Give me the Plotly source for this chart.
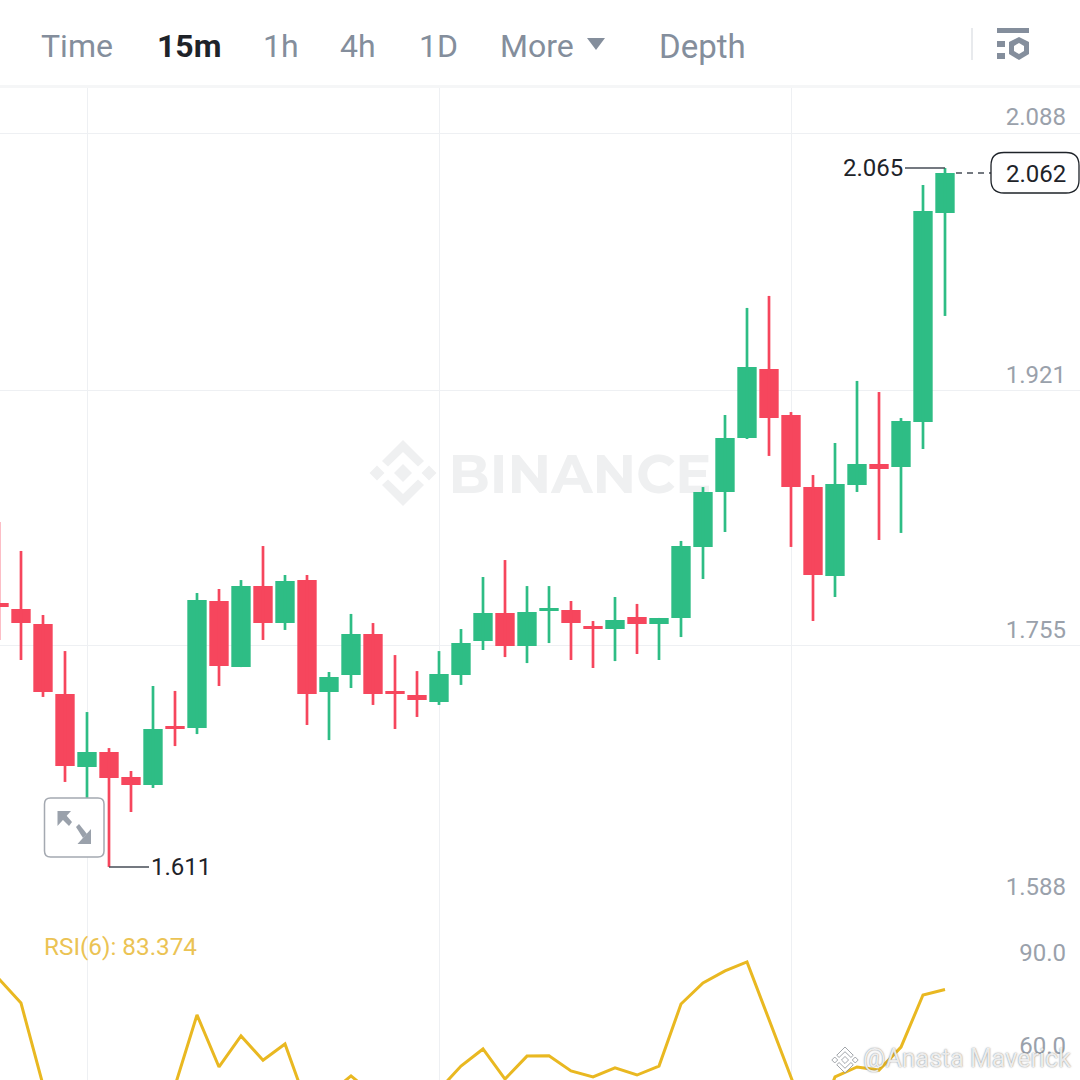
#!/usr/bin/env python3
# -*- coding: utf-8 -*-
import plotly.graph_objects as go

# ----------------------------------------
# data
# ----------------------------------------
candle_idx = list(range(-1, 43))
opens = [1.7828, 1.7789, 1.7692, 1.7237, 1.6763, 1.6860, 1.6698, 1.6646, 1.7029, 1.7016, 1.7841,
         1.7412, 1.7938, 1.7698, 1.7977, 1.7250, 1.7360, 1.7627, 1.7257, 1.7231, 1.7185, 1.7360,
         1.7581, 1.7763, 1.7549, 1.7776, 1.7783, 1.7679, 1.7659, 1.7737, 1.7692, 1.7731, 1.8192,
         1.8549, 1.8899, 1.9347, 1.9049, 1.8581, 1.8003, 1.8594, 1.8731, 1.8711, 1.9003, 2.0360]
closes = [1.7802, 1.7698, 1.7250, 1.6770, 1.6860, 1.6692, 1.6646, 1.7010, 1.7010, 1.7848, 1.7419,
          1.7938, 1.7698, 1.7971, 1.7237, 1.7347, 1.7627, 1.7237, 1.7237, 1.7198, 1.7367, 1.7568,
          1.7763, 1.7549, 1.7770, 1.7796, 1.7698, 1.7659, 1.7718, 1.7692, 1.7731, 1.8198, 1.8549,
          1.8899, 1.9361, 1.9029, 1.8581, 1.8010, 1.8601, 1.8731, 1.8698, 1.9010, 2.0374, 2.0620]
highs = [1.8354, 1.8166, 1.7750, 1.7516, 1.7120, 1.6886, 1.6737, 1.7289, 1.7257, 1.7893, 1.7919,
         1.7977, 1.8198, 1.8010, 1.8010, 1.7380, 1.7757, 1.7698, 1.7490, 1.7386, 1.7516, 1.7659,
         1.7997, 1.8107, 1.7938, 1.7938, 1.7841, 1.7711, 1.7867, 1.7822, 1.7731, 1.8231, 1.8581,
         1.9049, 1.9744, 1.9822, 1.9068, 1.8659, 1.8867, 1.9270, 1.9198, 1.9029, 2.0542, 2.0653]
lows = [1.7588, 1.7458, 1.7218, 1.6666, 1.6451, 1.6114, 1.6471, 1.6627, 1.6899, 1.6977, 1.7289,
        1.7412, 1.7588, 1.7653, 1.7036, 1.6938, 1.7276, 1.7166, 1.7010, 1.7088, 1.7166, 1.7296,
        1.7523, 1.7477, 1.7438, 1.7568, 1.7458, 1.7406, 1.7451, 1.7497, 1.7458, 1.7607, 1.7984,
        1.8289, 1.8893, 1.8783, 1.8192, 1.7711, 1.7867, 1.8549, 1.8237, 1.8283, 1.8828, 1.9692]
rsi = [86.8, 79.0, 52.6, 40.0, 45.0, 38.0, 35.0, 48.0, 52.3, 75.2, 58.4, 68.4, 60.6, 65.8, 46.1,
       49.7, 55.5, 49.7, 45.0, 44.0, 51.0, 58.7, 64.2, 54.5, 61.9, 62.0, 57.1, 55.2, 58.1, 55.8,
       58.7, 78.7, 85.5, 89.4, 92.3, 73.5, 54.8, 36.5, 55.2, 58.4, 57.4, 64.8, 81.6, 83.374]

price_ticks = [1.588, 1.755, 1.921, 2.088]
price_tick_labels = ["1.588", "1.755", "1.921", "2.088"]
rsi_ticks = [60, 90]
rsi_tick_labels = ["60.0", "90.0"]
time_grid_idx = [3, 19, 35]
tabs = ["Time", "15m", "1h", "4h", "1D", "More", "Depth"]

# ----------------------------------------
# style
# ----------------------------------------
W, H = 1080, 1080
UP, DOWN = "#2EBD85", "#F6465D"
GRID = "#EEF0F3"
AXIS_TEXT = "#9AA1AB"
TAB_TEXT = "#848E9C"
DARK = "#1E2329"
FONT = "Roboto"


def xp(px):
    return px / W


def yp(px):
    return 1 - px / H


def poly(points):
    # pixel points -> closed svg path in paper coordinates
    head, *rest = points
    d = f"M {xp(head[0])} {yp(head[1])} "
    d += " ".join(f"L {xp(x)} {yp(y)}" for x, y in rest)
    return d + " Z"


def round_rect(x0, y0, x1, y1, r):
    p = lambda x, y: f"{xp(x)} {yp(y)}"
    return (
        f"M {p(x0 + r, y0)} L {p(x1 - r, y0)} Q {p(x1, y0)} {p(x1, y0 + r)} "
        f"L {p(x1, y1 - r)} Q {p(x1, y1)} {p(x1 - r, y1)} "
        f"L {p(x0 + r, y1)} Q {p(x0, y1)} {p(x0, y1 - r)} "
        f"L {p(x0, y0 + r)} Q {p(x0, y0)} {p(x0 + r, y0)} Z"
    )


def binance_logo(cx, cy, r):
    # five pieces of the diamond mark, r = half width
    k = r / 33
    pieces = []
    for dx, dy, s in [(0, 0, 9), (-26, 0, 7.5), (26, 0, 7.5)]:
        pieces.append([(cx + (dx - s) * k, cy + dy * k), (cx + dx * k, cy + (dy - s) * k),
                       (cx + (dx + s) * k, cy + dy * k), (cx + dx * k, cy + (dy + s) * k)])
    for sign in (-1, 1):
        pieces.append([
            (cx, cy + sign * 33 * k),
            (cx + 21 * k, cy + sign * 12 * k),
            (cx + 15 * k, cy + sign * 6.5 * k),
            (cx, cy + sign * 21 * k),
            (cx - 15 * k, cy + sign * 6.5 * k),
            (cx - 21 * k, cy + sign * 12 * k),
        ])
    return pieces


def paper_shape(path, fill=None, line=None, width=0, layer="above"):
    return dict(type="path", xref="paper", yref="paper", path=path, fillcolor=fill or "rgba(0,0,0,0)",
                line=dict(color=line or "rgba(0,0,0,0)", width=width), layer=layer)


def wick_trace(rising, color):
    # candlestick line width also grows the body, so wicks are drawn on their own
    xs, ys = [], []
    for i, o, c, h, l in zip(candle_idx, opens, closes, highs, lows):
        if (c >= o) == rising:
            xs += [i, i, None]
            ys += [l, h, None]
    return go.Scatter(x=xs, y=ys, mode="lines", line=dict(color=color, width=2.7),
                      showlegend=False, hoverinfo="skip")


fig = go.Figure()

fig.add_trace(
    go.Candlestick(
        x=candle_idx, open=opens, high=highs, low=lows, close=closes,
        whiskerwidth=0,
        increasing=dict(line=dict(color=UP, width=0), fillcolor=UP),
        decreasing=dict(line=dict(color=DOWN, width=0), fillcolor=DOWN),
        showlegend=False, hoverinfo="skip",
    )
)
fig.add_trace(wick_trace(True, UP))
fig.add_trace(wick_trace(False, DOWN))
fig.add_trace(
    go.Scatter(
        x=candle_idx, y=rsi, yaxis="y2", mode="lines",
        line=dict(color="#E9B821", width=3),
        showlegend=False, hoverinfo="skip",
    )
)

shapes = []
annotations = []

# header
shapes.append(dict(type="rect", xref="paper", yref="paper", x0=0, x1=1, y0=yp(88), y1=yp(85),
                   fillcolor="#F5F6F7", line=dict(width=0)))
shapes.append(dict(type="line", xref="paper", yref="paper", x0=xp(972), x1=xp(972), y0=yp(28), y1=yp(60),
                   line=dict(color="#E8EAED", width=2)))
for text, x in zip(tabs, [39, 155, 261, 338, 417, 498, 657]):
    active = text == "15m"
    annotations.append(dict(
        xref="paper", yref="paper", x=xp(x), y=yp(46), xanchor="left", yanchor="middle", showarrow=False,
        text=f"<b>{text}</b>" if active else text,
        font=dict(family=FONT, size=33 if text == "Depth" else 32, color=DARK if active else TAB_TEXT),
    ))
# More triangle
shapes.append(paper_shape(poly([(587, 38), (605, 38), (596, 50)]), fill=TAB_TEXT))
# settings icon
shapes.append(paper_shape(poly([(997, 28), (1029, 28), (1029, 33), (997, 33)]), fill=TAB_TEXT))
shapes.append(paper_shape(poly([(997, 41), (1005, 41), (1005, 47), (997, 47)]), fill=TAB_TEXT))
shapes.append(paper_shape(poly([(997, 53), (1005, 53), (1005, 59), (997, 59)]), fill=TAB_TEXT))
shapes.append(paper_shape(poly([(1019, 37), (1029, 42), (1029, 54), (1019, 60), (1009, 54), (1009, 42)]), fill=TAB_TEXT))
shapes.append(paper_shape(poly([(1019, 43), (1024, 46), (1024, 51), (1019, 54), (1014, 51), (1014, 46)]), fill="#FFFFFF"))

# BINANCE watermark under the candles
for piece in binance_logo(403, 473, 33):
    shapes.append(paper_shape(poly(piece), fill="#EFF0F1", layer="below"))
shapes.append(dict(
    type="rect", xref="paper", yref="paper", x0=xp(450), x1=xp(710), y0=yp(494), y1=yp(449), layer="below",
    line=dict(width=0), fillcolor="rgba(0,0,0,0)",
    label=dict(text="<b>BINANCE</b>", textposition="middle center",
               font=dict(family="Montserrat, Lato, Open Sans", size=54, color="#EFF0F1")),
))

# high / low markers
hi_i = highs.index(max(highs[20:]))
lo_i = lows.index(min(lows))
annotations.append(dict(
    x=candle_idx[hi_i], y=highs[hi_i], xref="x", yref="y", text=f"{highs[hi_i]:.3f}",
    showarrow=True, arrowhead=0, arrowwidth=1.4, arrowcolor="#474D57", ax=-40, ay=0, xanchor="right",
    font=dict(family=FONT, size=24, color=DARK),
))
annotations.append(dict(
    x=candle_idx[lo_i], y=lows[lo_i], xref="x", yref="y", text=f"{lows[lo_i]:.3f}",
    showarrow=True, arrowhead=0, arrowwidth=1.4, arrowcolor="#474D57", ax=40, ay=0, xanchor="left",
    font=dict(family=FONT, size=24, color=DARK),
))

# last price tag
shapes.append(dict(type="line", xref="paper", yref="y", x0=xp(956), x1=xp(991), y0=closes[-1], y1=closes[-1],
                   line=dict(color="#474D57", width=1.5, dash="6px,5px")))
shapes.append(paper_shape(round_rect(991, 152.5, 1079, 193, 13), fill="#FFFFFF", line=DARK, width=1.3))
annotations.append(dict(
    xref="paper", yref="y", x=xp(1036), y=closes[-1], showarrow=False, xanchor="center", yanchor="middle",
    text=f"{closes[-1]:.3f}", font=dict(family=FONT, size=24, color=DARK), yshift=-1,
))

# fullscreen button
shapes.append(paper_shape(round_rect(44.5, 798, 104, 857, 6), fill="#FFFFFF", line="#A4A9B1", width=1.5))
shapes.append(paper_shape(poly([(57.5, 811), (71, 811), (57.5, 826)]), fill=AXIS_TEXT))
shapes.append(paper_shape(poly([(91, 844), (77.5, 844), (91, 829)]), fill=AXIS_TEXT))
shapes.append(paper_shape(poly([(66, 815), (72, 822), (69, 826), (62, 819)]), fill=AXIS_TEXT))
shapes.append(paper_shape(poly([(76, 827), (79, 824), (87, 834), (83, 838)]), fill=AXIS_TEXT))

# RSI caption
annotations.append(dict(
    xref="paper", yref="paper", x=xp(42), y=yp(946), xanchor="left", yanchor="middle", showarrow=False,
    text=f"RSI(6): {rsi[-1]:.3f}", font=dict(family=FONT, size=24.3, color="#EBC354"),
))

# overlaid author mark at the bottom right
for piece in binance_logo(845, 1060, 13):
    shapes.append(paper_shape(poly(piece), fill="rgba(255,255,255,0.8)", line="#8A8F96", width=0.8))
annotations.append(dict(
    xref="paper", yref="paper", x=xp(861), y=yp(1058), xanchor="left", yanchor="middle", showarrow=False,
    text="@Anasta Maverick",
    font=dict(family=FONT, size=25, color="rgba(255,255,255,0.85)", shadow="0px 0px 1.5px #555"),
))

axis_font = dict(family=FONT, size=24, color=AXIS_TEXT)
price_top = price_ticks[-1] + (133 - 88) * (price_ticks[-1] - price_ticks[0]) / (903 - 133)
rsi_per_px = (rsi_ticks[1] - rsi_ticks[0]) / (1062 - 969)

fig.update_layout(
    width=W, height=H,
    margin=dict(l=0, r=0, t=0, b=0, pad=0),
    paper_bgcolor="#FFFFFF", plot_bgcolor="#FFFFFF",
    showlegend=False, boxgap=0.12, boxgroupgap=0, dragmode=False,
    shapes=shapes, annotations=annotations,
    xaxis=dict(
        domain=[0, 1], range=[-21 / 22, (W - 21) / 22],
        tickvals=time_grid_idx, showticklabels=False, ticks="",
        showgrid=True, gridcolor=GRID, gridwidth=1, zeroline=False, showline=False,
        rangeslider=dict(visible=False), fixedrange=True,
    ),
    yaxis=dict(
        domain=[yp(903), yp(88)], range=[price_ticks[0], price_top],
        side="right", tickvals=price_ticks, ticktext=price_tick_labels,
        ticklabelposition="inside", ticklabelshift=-16, ticklabelstandoff=11, ticks="",
        tickfont=axis_font, showgrid=True, gridcolor=GRID, gridwidth=1.3,
        zeroline=False, showline=False, fixedrange=True,
    ),
    yaxis2=dict(
        domain=[0, yp(903)], range=[90 - (1080 - 969) * rsi_per_px, 90 + (969 - 903) * rsi_per_px],
        side="right", anchor="x", tickvals=rsi_ticks, ticktext=rsi_tick_labels,
        ticklabelposition="inside", ticklabelshift=-16, ticklabelstandoff=11, ticks="",
        tickfont=axis_font, showgrid=False, zeroline=False, showline=False, fixedrange=True,
    ),
)

fig.write_html("out.html", config={"displayModeBar": False},
               post_script="document.body.style.margin='0';")
